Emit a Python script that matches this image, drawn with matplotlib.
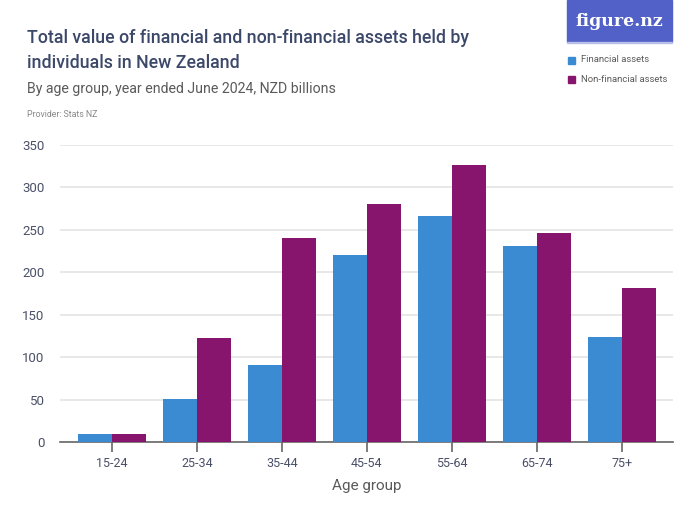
import numpy as np
import matplotlib
matplotlib.use('Agg')
import matplotlib.pyplot as plt
from matplotlib.patches import Rectangle

# data
age_groups = ['15-24', '25-34', '35-44', '45-54', '55-64', '65-74', '75+']
financial = [10, 51, 91, 220, 266, 231, 124]
non_financial = [10, 123, 240, 280, 326, 246, 182]
series_names = ['Financial assets', 'Non-financial assets']
y_ticks = [0, 50, 100, 150, 200, 250, 300, 350]

blue = '#3b8bd3'
purple = '#87156e'
title_col = '#3c4869'
grey = '#5a5a5a'

plt.rcParams['font.family'] = ['Roboto', 'DejaVu Sans']

fig = plt.figure(figsize=(7, 5.25), dpi=100)
ax = fig.add_axes([60/700, 83/525, 613/700, 297/525])

x = np.arange(len(age_groups))
w = 0.4
ax.bar(x - w/2, financial, w, color=blue, zorder=3)
ax.bar(x + w/2, non_financial, w, color=purple, zorder=3)

ax.set_xlim(-0.61, 6.6)
ax.set_ylim(0, 350)
ax.set_yticks(y_ticks)
ax.set_xticks(x)
ax.set_xticklabels(age_groups)
ax.yaxis.grid(True, color='#e4e4e4', linewidth=1.2, zorder=0)
for s in ['top', 'right', 'left']:
    ax.spines[s].set_visible(False)
ax.spines['bottom'].set_color('#666666')
ax.spines['bottom'].set_linewidth(1.2)
ax.tick_params(axis='y', length=0, pad=11, labelsize=9.5, labelcolor='#4a5068')
ax.tick_params(axis='x', length=7, width=1.2, color='#666666', pad=4, labelsize=9, labelcolor='#4a5068')
ax.set_xlabel('Age group', fontsize=11, color=grey, labelpad=6)

fig.text(27/700, 1 - 43/525, 'Total value of financial and non-financial assets held by',
         fontsize=12.8, color=title_col, fontweight='medium', va='baseline')
fig.text(27/700, 1 - 68/525, 'individuals in New Zealand',
         fontsize=12.8, color=title_col, fontweight='medium', va='baseline')
fig.text(27/700, 1 - 93/525, 'By age group, year ended June 2024, NZD billions',
         fontsize=10.2, color=grey, va='baseline')
fig.text(27/700, 1 - 117/525, 'Provider: Stats NZ', fontsize=6.3, color='#888888', va='baseline')

# figure.nz logo box
fig.patches.append(Rectangle((567/700, 1 - 42/525), 105/700, 42/525, transform=fig.transFigure,
                             color='#5161c7', zorder=5))
fig.patches.append(Rectangle((567/700, 1 - 43/525), 105/700, 1/525, transform=fig.transFigure,
                             color='#b9bfe8', zorder=5))
fig.text(619/700, 1 - 21/525, 'figure.nz', fontsize=12.5, color='white', fontweight='bold',
         family='DejaVu Serif', ha='center', va='center', zorder=6)

# legend
for i, (name, col) in enumerate(zip(series_names, [blue, purple])):
    yy = 60 + i * 19
    fig.patches.append(Rectangle((568/700, 1 - (yy + 4)/525), 7/700, 7/525,
                                 transform=fig.transFigure, color=col))
    fig.text(581/700, 1 - yy/525, name, fontsize=6.8, color=grey, va='center')

fig.savefig('out.png', dpi=100)
